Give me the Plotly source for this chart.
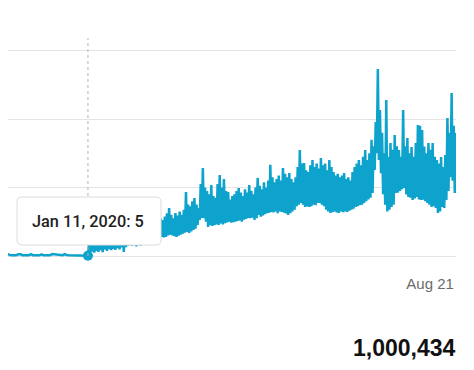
import pandas as pd
import plotly.graph_objects as go

# ---- data ----
# before 2020: one reading every 3.5 days
pre_2020_values = [20, 20, 25, 20, 55, 25, 20, 20, 25, 50, 50, 25, 20, 20, 25, 55, 20, 20, 25, 20,
                   50, 20, 25, 20, 20, 55, 50, 25, 20, 20, 25, 55, 25, 20, 20, 25, 20, 20, 25, 20,
                   20, 20]
pre_2020_start = "2019-08-17"
pre_2020_step = "84h"

# from Jan 11, 2020: one reading every 1.75 days
values_2020_2021 = [
    5, 380, 90, 420, 130, 460, 100, 350, 150, 500,
    120, 540, 170, 480, 110, 600, 190, 560, 150, 620,
    200, 580, 170, 650, 210, 700, 180, 640, 230, 720,
    190, 680, 250, 740, 120, 700, 260, 820, 300, 780,
    420, 860, 300, 800, 450, 900, 280, 850, 430, 880,
    300, 920, 470, 870, 500, 960, 480, 900, 520, 1000,
    520, 940, 540, 990, 560, 1050, 520, 980, 580, 1100,
    560, 1050, 540, 1150, 560, 1250, 600, 1400, 620, 1200,
    600, 1100, 580, 1255, 560, 1180, 590, 1300, 620, 1200,
    650, 1350, 680, 1870, 700, 1500, 670, 1450, 720, 1600,
    760, 1690, 800, 1500, 900, 1400, 1050, 2100, 1110, 2570,
    1100, 2000, 1000, 1900, 850, 1800, 900, 2070, 880, 1750,
    900, 1700, 920, 2100, 905, 2365, 950, 2000, 920, 2250,
    960, 1900, 980, 1870, 1000, 1650, 970, 1750, 990, 1800,
    1000, 1900, 1020, 1985, 1040, 1850, 1000, 1750, 1060, 1950,
    1080, 1850, 1110, 2070, 1100, 1900, 1120, 1800, 1050, 2000,
    1100, 2280, 1200, 2050, 1150, 1950, 1180, 2150, 1220, 2000,
    1250, 2200, 1260, 2660, 1285, 2300, 1270, 2150, 1300, 2250,
    1250, 2350, 1300, 2200, 1285, 2570, 1260, 2400, 1240, 2300,
    1200, 2420, 1250, 2250, 1300, 2150, 1350, 2300, 1450, 2600,
    1500, 3095, 1550, 2700, 1500, 2715, 1430, 2500, 1450, 2450,
    1430, 2650, 1450, 2800, 1500, 2600, 1480, 2700, 1550, 2550,
    1550, 2860, 1500, 2650, 1450, 2700, 1350, 2500, 1300, 2800,
    1255, 2600, 1280, 2450, 1300, 2350, 1270, 2400, 1255, 2300,
    1300, 2350, 1280, 2420, 1300, 2250, 1285, 2300, 1320, 2200,
    1350, 2450, 1380, 2600, 1430, 2700, 1450, 2800, 1480, 2650,
    1500, 2900, 1550, 3095, 1600, 2800, 1650, 3000, 1700, 3390,
    1840, 3200, 2510, 3910, 3000, 5460, 2800, 4260, 2420, 3600,
    1800, 3000, 1500, 4555, 1300, 2900, 1350, 3300, 1430, 3100,
    1500, 3530, 1840, 3200, 1850, 3095, 1900, 2900, 1950, 4260,
    1985, 3200, 1800, 3445, 1720, 3000, 1700, 3180, 1635, 2900,
    1680, 3300, 1720, 3825, 1650, 3800, 1635, 3680, 1640, 3200,
    1600, 3000, 1550, 3300, 1500, 3100, 1430, 3300, 1450, 2900,
    1400, 2800, 1255, 2700, 1300, 2890, 1430, 2600, 1400, 2950,
    1635, 4030, 1900, 3600, 2300, 4760, 2200, 3800, 1840, 3590,
]
start_2020 = "2020-01-11"
step_2020 = "42h"

hover_date = "2020-01-11"
hover_value = 5
hover_text = "Jan 11, 2020: 5"

grid_values = [0, 2000, 4000, 6000]
x_tick_dates = ["2021-08-01"]
x_tick_labels = ["Aug 21"]
x_range = ["2019-08-31 07:00", "2021-09-13"]
y_range = [-262.8, 6365.0]

total_text = "1,000,434"

dates = list(pd.date_range(pre_2020_start, periods=len(pre_2020_values), freq=pre_2020_step)) + \
        list(pd.date_range(start_2020, periods=len(values_2020_2021), freq=step_2020))
values = pre_2020_values + values_2020_2021

LINE = "#0ea3cc"

fig = go.Figure()
fig.add_trace(go.Scatter(x=dates, y=values, mode="lines",
                         line=dict(color=LINE, width=2.5), hoverinfo="skip"))
fig.add_trace(go.Scatter(x=[hover_date], y=[hover_value], mode="markers",
                         marker=dict(color=LINE, size=10), hoverinfo="skip"))

# The page body has an 8px margin: figure is sized so page coords match the reference.
OFF = 8.0
PW, PH, PAGE_TOP, PAGE_BOTTOM = 448.0, 227.0, 38.0, 265.0
def px(xpage):
    return (xpage - OFF) / PW
def py(ypage):
    return (PAGE_BOTTOM - ypage) / PH

# vertical dotted hover rule
fig.add_shape(type="line", xref="x", yref="paper", x0=hover_date, x1=hover_date,
              y0=py(256), y1=1, line=dict(color="#b5b5b5", width=1, dash="dot"), layer="above")

# rounded tooltip box
x0, x1, y0, y1, r = 17, 161, 197, 245, 5
rx, ry = r / PW, r / PH
X0, X1, Yt, Yb = px(x0), px(x1), py(y0), py(y1)
path = (f"M {X0+rx},{Yt} L {X1-rx},{Yt} Q {X1},{Yt} {X1},{Yt-ry} "
        f"L {X1},{Yb+ry} Q {X1},{Yb} {X1-rx},{Yb} L {X0+rx},{Yb} Q {X0},{Yb} {X0},{Yb+ry} "
        f"L {X0},{Yt-ry} Q {X0},{Yt} {X0+rx},{Yt} Z")
fig.add_shape(type="path", xref="paper", yref="paper", path=path,
              fillcolor="white", line=dict(color="#dcdcdc", width=1), layer="above")
fig.add_annotation(xref="paper", yref="paper", x=px(88), y=py(221), text=hover_text,
                   showarrow=False, xanchor="center", yanchor="middle",
                   font=dict(family="Roboto, Arial, sans-serif", size=16.3, color="#1e1e1e", weight=500))

fig.add_annotation(xref="paper", yref="paper", x=px(458), y=py(348), text=f"<b>{total_text}</b>",
                   showarrow=False, xanchor="right", yanchor="middle",
                   font=dict(family="Liberation Sans, Arial, sans-serif", size=23, color="#111111"))

fig.update_layout(
    width=466, height=362,
    margin=dict(l=0, r=18, t=30, b=105),
    paper_bgcolor="white", plot_bgcolor="white",
    showlegend=False,
    xaxis=dict(type="date", range=x_range, tickvals=x_tick_dates, ticktext=x_tick_labels,
               showgrid=False, zeroline=False, showline=False, ticks="",
               ticklabelstandoff=8,
               tickfont=dict(family="Liberation Sans, Arial, sans-serif", size=15, color="#6b6b6b")),
    yaxis=dict(range=y_range, tickvals=grid_values, showticklabels=False, showgrid=True,
               gridcolor="#e4e4e4", gridwidth=1, zeroline=False, showline=False, ticks=""),
)

fig.write_html("out.html")
